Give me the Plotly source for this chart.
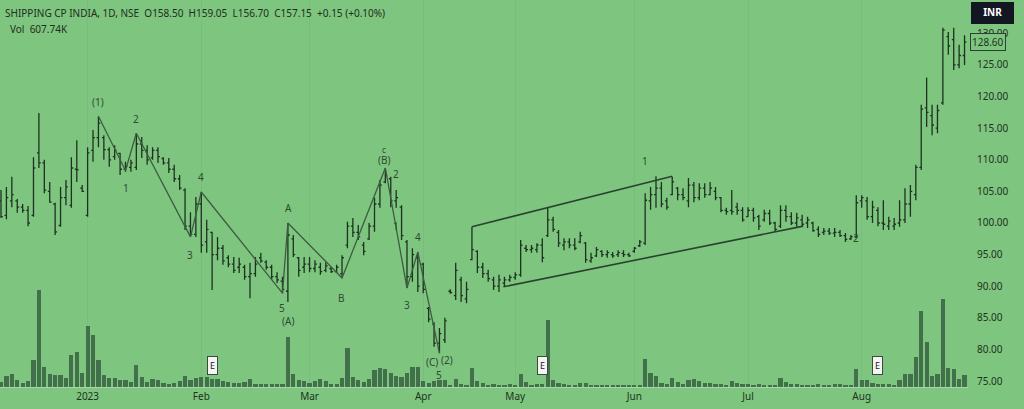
import plotly.graph_objects as go

# ---------------- data ----------------
high = [105.2, 105.7, 107.3, 103.8, 103.0, 102.7, 110.4, 117.4, 110.0, 106.5,
        103.2, 105.7, 106.8, 110.4, 113.1, 106.0, 112.0, 114.7, 116.9, 113.9,
        112.0, 112.3, 111.1, 109.7, 110.0, 114.2, 113.6, 112.3, 112.0, 112.0,
        110.4, 110.3, 109.2, 107.6, 105.5, 101.7, 104.1, 104.9, 100.5, 98.6,
        97.8, 96.5, 94.9, 94.6, 94.5, 93.4, 93.7, 94.6, 95.3, 94.1,
        93.4, 92.2, 91.5, 100.0, 98.1, 94.6, 94.6, 94.6, 94.1, 93.7,
        93.8, 93.0, 93.4, 94.9, 100.2, 100.8, 99.7, 97.0, 100.0, 104.0,
        106.8, 108.7, 107.3, 105.2, 102.8, 97.3, 96.0, 95.4, 93.7, 86.7,
        84.3, 83.4, 85.0, 89.5, 93.7, 91.5, 90.7, 99.4, 95.7, 93.7,
        92.6, 91.5, 91.8, 91.5, 91.8, 92.2, 97.3, 96.5, 96.5, 96.8,
        97.6, 102.5, 101.0, 98.9, 97.6, 97.6, 97.6, 98.6, 97.0, 95.3,
        96.2, 95.7, 95.7, 95.4, 95.7, 95.7, 95.3, 96.2, 97.3, 104.7,
        105.7, 107.4, 106.5, 104.0, 107.3, 105.7, 105.5, 107.1, 106.5, 106.3,
        106.3, 106.5, 105.7, 104.1, 102.4, 105.2, 103.2, 102.5, 102.5, 102.4,
        101.3, 102.1, 102.1, 100.2, 102.8, 102.8, 101.7, 101.6, 101.3, 101.0,
        100.2, 99.5, 99.2, 99.2, 99.2, 98.9, 98.4, 98.1, 104.4, 104.4,
        104.1, 103.5, 102.5, 103.6, 101.0, 100.8, 103.6, 105.5, 106.0, 109.2,
        118.7, 123.0, 118.7, 118.7, 130.9, 130.2, 130.9, 128.2, 129.7]
low = [100.8, 100.6, 102.5, 101.6, 101.6, 99.5, 101.0, 108.7, 104.7, 103.2,
       98.1, 99.4, 102.8, 102.4, 106.5, 104.9, 101.0, 109.7, 112.0, 110.0,
       108.9, 110.0, 107.6, 108.1, 108.1, 108.4, 110.3, 109.2, 110.0, 109.5,
       109.2, 107.9, 106.5, 105.2, 98.9, 97.8, 97.8, 95.3, 95.3, 89.4,
       94.1, 93.4, 93.0, 92.1, 92.1, 91.0, 88.1, 91.5, 93.7, 92.6,
       91.0, 90.5, 88.9, 87.5, 94.6, 91.5, 92.1, 92.2, 92.2, 91.8,
       92.2, 92.1, 92.1, 91.3, 96.0, 97.8, 97.3, 94.9, 97.3, 98.6,
       102.4, 106.3, 102.5, 102.4, 97.3, 89.7, 90.7, 89.1, 88.9, 84.3,
       80.4, 79.4, 81.0, 88.8, 87.8, 87.5, 87.3, 94.1, 92.1, 91.3,
       90.7, 89.4, 89.1, 89.9, 90.7, 91.0, 91.5, 95.4, 95.3, 95.3,
       93.8, 97.8, 98.6, 96.2, 95.7, 96.0, 95.7, 96.8, 93.7, 93.7,
       94.6, 94.6, 94.5, 94.5, 94.6, 94.6, 94.6, 95.3, 96.2, 96.5,
       102.1, 102.4, 102.5, 102.1, 104.4, 103.6, 103.6, 102.5, 103.3, 103.6,
       104.0, 104.4, 103.6, 101.7, 101.3, 101.3, 101.3, 100.2, 101.0, 100.2,
       98.9, 100.2, 99.7, 98.6, 99.2, 100.2, 99.7, 99.4, 99.4, 99.2,
       98.6, 97.8, 98.1, 98.1, 97.8, 97.8, 97.0, 97.3, 97.6, 102.4,
       100.5, 100.0, 99.5, 98.9, 98.9, 98.9, 99.4, 100.0, 101.0, 103.6,
       108.4, 115.2, 113.9, 114.2, 118.7, 126.6, 124.2, 124.5, 125.0]
open_ = [103.5, 101.2, 103.5, 103.5, 102.5, 102.0, 101.2, 111.1, 109.5, 105.0,
         103.0, 99.6, 104.0, 102.8, 108.5, 105.5, 101.2, 111.5, 113.5, 113.5,
         111.6, 110.5, 111.0, 108.5, 108.8, 108.8, 112.5, 111.5, 110.3, 111.5,
         110.2, 109.5, 108.5, 107.0, 105.2, 99.5, 98.2, 103.0, 97.0, 98.5,
         95.0, 96.0, 94.5, 93.5, 93.0, 93.0, 91.5, 92.0, 94.5, 93.8,
         93.0, 91.5, 90.8, 89.2, 97.5, 94.5, 93.0, 93.5, 92.8, 93.0,
         92.5, 92.8, 92.3, 92.0, 96.5, 99.5, 98.5, 96.5, 97.5, 99.5,
         103.0, 106.5, 107.0, 103.5, 102.5, 97.0, 91.5, 94.5, 93.5, 86.5,
         84.0, 81.0, 81.5, 89.2, 88.5, 91.0, 88.0, 94.2, 95.5, 93.0,
         92.0, 91.0, 90.0, 90.5, 91.0, 91.4, 91.8, 96.0, 95.8, 95.8,
         96.5, 98.0, 100.5, 98.5, 96.5, 97.0, 96.5, 97.0, 96.8, 94.0,
         94.8, 95.5, 95.0, 95.0, 95.0, 95.2, 95.0, 95.5, 96.4, 96.8,
         103.5, 104.5, 105.5, 103.5, 104.5, 105.5, 104.5, 103.5, 106.0, 104.0,
         105.5, 104.5, 105.0, 104.0, 102.0, 102.0, 102.5, 102.0, 101.0, 102.0,
         101.0, 100.5, 101.5, 100.0, 99.5, 102.0, 101.0, 100.0, 100.5, 100.0,
         100.0, 99.0, 98.5, 98.7, 98.4, 98.5, 98.0, 97.5, 97.8, 103.5,
         103.5, 101.0, 102.0, 100.0, 99.5, 99.5, 100.0, 100.5, 103.0, 104.5,
         108.8, 118.2, 117.0, 115.0, 119.0, 129.5, 129.0, 125.0, 126.5]
close = [101.0, 104.0, 104.5, 102.5, 102.0, 100.0, 108.7, 109.5, 105.2, 103.3,
         98.6, 104.0, 105.7, 108.7, 108.4, 105.0, 111.1, 113.5, 115.8, 111.6,
         110.0, 111.5, 108.5, 109.0, 109.5, 112.5, 111.5, 110.0, 111.5, 110.5,
         109.5, 108.5, 107.0, 105.5, 99.5, 98.2, 103.0, 96.5, 99.0, 95.0,
         96.0, 94.0, 93.5, 92.5, 93.5, 91.5, 92.0, 93.5, 94.0, 93.0,
         91.5, 91.0, 89.5, 98.1, 95.0, 92.5, 93.5, 92.8, 93.5, 92.3,
         93.2, 92.3, 93.0, 94.5, 99.5, 98.5, 97.8, 95.5, 99.5, 103.0,
         106.0, 107.5, 103.5, 104.0, 98.0, 91.5, 95.0, 90.0, 89.5, 84.8,
         81.0, 82.5, 84.5, 89.0, 92.5, 88.5, 89.5, 95.8, 93.0, 92.0,
         91.2, 90.0, 91.0, 91.0, 91.4, 91.8, 96.5, 95.8, 96.0, 96.5,
         94.5, 100.5, 99.0, 96.8, 97.0, 96.5, 96.0, 98.0, 94.2, 94.5,
         95.8, 95.0, 95.3, 94.8, 95.3, 95.0, 94.8, 96.0, 97.0, 103.6,
         104.5, 105.5, 103.0, 102.5, 106.5, 104.5, 104.0, 106.0, 104.0, 105.5,
         104.5, 105.5, 104.0, 102.0, 101.8, 101.8, 102.0, 100.5, 102.0, 100.8,
         99.5, 101.5, 100.0, 99.0, 102.0, 101.0, 100.0, 100.8, 99.8, 100.5,
         98.8, 98.2, 98.7, 98.4, 98.5, 98.0, 97.4, 97.8, 103.2, 104.0,
         101.0, 102.5, 100.0, 99.8, 100.3, 99.8, 100.5, 103.0, 105.0, 108.8,
         118.0, 117.5, 115.5, 117.8, 130.5, 128.0, 125.0, 126.5, 128.6]
volume_k = [250, 535, 670, 335, 200, 285, 1335, 4835, 1000, 670,
            620, 585, 450, 1585, 1750, 700, 3035, 2585, 1335, 585,
            450, 450, 370, 370, 250, 1085, 500, 250, 415, 335,
            200, 165, 200, 285, 535, 335, 450, 500, 500, 400,
            400, 285, 250, 200, 200, 250, 415, 165, 165, 135,
            165, 135, 165, 2500, 665, 365, 300, 200, 300, 415,
            300, 165, 165, 465, 1965, 500, 365, 250, 415, 865,
            965, 915, 700, 535, 500, 700, 1000, 1000, 300, 200,
            300, 335, 335, 85, 415, 165, 85, 965, 300, 200,
            115, 165, 115, 115, 165, 115, 665, 250, 115, 165,
            165, 3335, 335, 200, 165, 115, 115, 200, 200, 115,
            115, 85, 85, 85, 85, 85, 85, 85, 115, 1385,
            700, 550, 215, 135, 465, 250, 165, 335, 415, 300,
            215, 215, 165, 135, 115, 285, 200, 165, 165, 115,
            165, 115, 115, 115, 465, 250, 165, 165, 115, 115,
            115, 165, 115, 115, 165, 165, 115, 115, 900, 365,
            365, 200, 150, 165, 135, 85, 335, 635, 665, 1500,
            3800, 2250, 550, 635, 4385, 965, 915, 415, 608]

tick_labels = ["2023", "Feb", "Mar", "Apr", "May", "Jun", "Jul", "Aug"]
tick_bar_index = [16, 37, 57, 78, 95, 117, 138, 159]
price_ticks = [75, 80, 85, 90, 95, 100, 105, 110, 115, 120, 125, 130]
last_price = 128.60

# Elliott-wave polyline (bar index, price)
wave_index = [18, 23, 25, 35, 37, 52, 53, 63, 71, 75, 77, 81]
wave_price = [116.9, 108.3, 114.2, 97.8, 104.9, 88.9, 100.0, 91.3, 108.7, 89.7, 95.4, 79.4]
# channel lines
channel_upper_index = [87, 124]
channel_upper_price = [99.4, 107.4]
channel_lower_index = [92.8, 148.2]
channel_lower_price = [89.9, 99.5]
# wave labels
label_text = ["(1)", "1", "2", "3", "4", "5", "(A)", "A", "B", "c", "(B)", "2", "1",
              "3", "4", "(C)", "(2)", "5", "1", "2"]
label_index = [18.0, 23.1, 24.9, 35.0, 36.9, 52.0, 53.1, 53.1, 62.9, 70.8, 70.9, 72.9, 73.0,
               75.0, 77.0, 79.6, 82.3, 80.9, 119.0, 158.0]
label_price = [119.1, 105.6, 116.5, 95.0, 107.2, 86.6, 84.5, 102.4, 88.1, 111.7, 110.0, 107.7, 99.5,
               87.0, 97.8, 78.0, 78.4, 76.0, 109.8, 97.7]
earnings_index = [39, 100, 162]

# ---------------- styling ----------------
BG = "#7ec57f"
INK = "#1d3320"
WAVE = "#3e5c41"
VOL = "#41704a"
FONT = "Noto Sans"
W, H = 1024, 409
PLOT_TOP, PLOT_BOTTOM, PLOT_RIGHT = 0, 387, 968
plot_h = PLOT_BOTTOM - PLOT_TOP

x = list(range(len(close)))

fig = go.Figure()
fig.add_trace(go.Bar(
    x=x, y=volume_k, yaxis="y2", marker=dict(color=VOL, line=dict(width=0)),
    width=0.78, hoverinfo="skip", showlegend=False))
fig.add_trace(go.Ohlc(
    x=x, open=open_, high=high, low=low, close=close,
    increasing=dict(line=dict(color=INK, width=1.3)),
    decreasing=dict(line=dict(color=INK, width=1.3)),
    tickwidth=0.35, showlegend=False, hoverinfo="skip"))
fig.add_trace(go.Scatter(
    x=wave_index, y=wave_price, mode="lines",
    line=dict(color=WAVE, width=1.3), showlegend=False, hoverinfo="skip"))
fig.add_trace(go.Scatter(
    x=channel_upper_index, y=channel_upper_price, mode="lines",
    line=dict(color="#2b432e", width=1.6), showlegend=False, hoverinfo="skip"))
fig.add_trace(go.Scatter(
    x=channel_lower_index, y=channel_lower_price, mode="lines",
    line=dict(color="#2b432e", width=1.6), showlegend=False, hoverinfo="skip"))

annotations = []
for t, xi, yp in zip(label_text, label_index, label_price):
    annotations.append(dict(x=xi, y=yp, xref="x", yref="y", text=t, showarrow=False,
                            font=dict(family=FONT, size=10 if t != "c" else 8, color="#2f4a32")))
for ei in earnings_index:
    annotations.append(dict(x=ei, y=1 - (375 - PLOT_TOP) / plot_h, xref="x", yref="paper",
                            text="E", showarrow=False, bgcolor="#f4f4f4",
                            bordercolor="#3a4a3c", borderwidth=1, borderpad=2,
                            font=dict(family=FONT, size=9, color="#222222")))
NB = "\u00a0"
title = ("SHIPPING CP INDIA, 1D, NSE" + NB * 2 + "O158.50" + NB * 2 + "H159.05" + NB * 2 +
         "L156.70" + NB * 2 + "C157.15" + NB * 2 + "+0.15 (+0.10%)")
annotations.append(dict(x=3 / PLOT_RIGHT, y=1 - 4 / plot_h, xref="paper", yref="paper",
                        xanchor="left", yanchor="top", text=title, showarrow=False,
                        font=dict(family=FONT, size=10, color="#1e2e20")))
annotations.append(dict(x=8 / PLOT_RIGHT, y=1 - 20 / plot_h, xref="paper", yref="paper",
                        xanchor="left", yanchor="top", text="Vol" + NB * 2 + "607.74K",
                        showarrow=False, font=dict(family=FONT, size=10, color="#1e2e20")))
# last price badge
annotations.append(dict(x=970 / PLOT_RIGHT, y=last_price, xref="paper", yref="y",
                        xanchor="left", text=f"{last_price:.2f}", showarrow=False,
                        bgcolor=BG, bordercolor="#2b432e", borderwidth=1, borderpad=1,
                        font=dict(family=FONT, size=10, color="#1d3320")))

# INR badge (shape with its own label)
shapes = [dict(type="rect", xref="paper", yref="paper",
               x0=971 / PLOT_RIGHT, x1=1014 / PLOT_RIGHT,
               y0=1 - 24 / plot_h, y1=1 - 2 / plot_h,
               fillcolor="#131722", line=dict(width=0), layer="above",
               label=dict(text="<b>INR</b>", textposition="middle center",
                          font=dict(family=FONT, size=10, color="#ffffff")))]

fig.update_layout(
    width=W, height=H,
    margin=dict(l=0, r=W - PLOT_RIGHT, t=PLOT_TOP, b=H - PLOT_BOTTOM),
    paper_bgcolor=BG, plot_bgcolor=BG,
    showlegend=False, bargap=0,
    xaxis=dict(range=[-0.185, 178.64], tickvals=tick_bar_index, ticktext=tick_labels,
               showgrid=True, gridcolor="rgba(40,80,40,0.07)", zeroline=False,
               showline=True, linecolor="#a8d6a8", linewidth=1, ticks="",
               rangeslider=dict(visible=False),
               tickfont=dict(family=FONT, size=10, color="#1d3320")),
    yaxis=dict(range=[74.05, 135.28], side="right", tickvals=price_ticks,
               ticktext=[f"{p:.2f}" for p in price_ticks], showgrid=False, zeroline=False,
               ticks="", ticklabelstandoff=8,
               tickfont=dict(family=FONT, size=10, color="#1d3320")),
    yaxis2=dict(range=[0, plot_h * 50], overlaying="y", visible=False, fixedrange=True),
    annotations=annotations, shapes=shapes,
)

fig.write_html("out.html", config={"displayModeBar": False},
               post_script="document.body.style.margin='0';document.body.style.overflow='hidden';")
